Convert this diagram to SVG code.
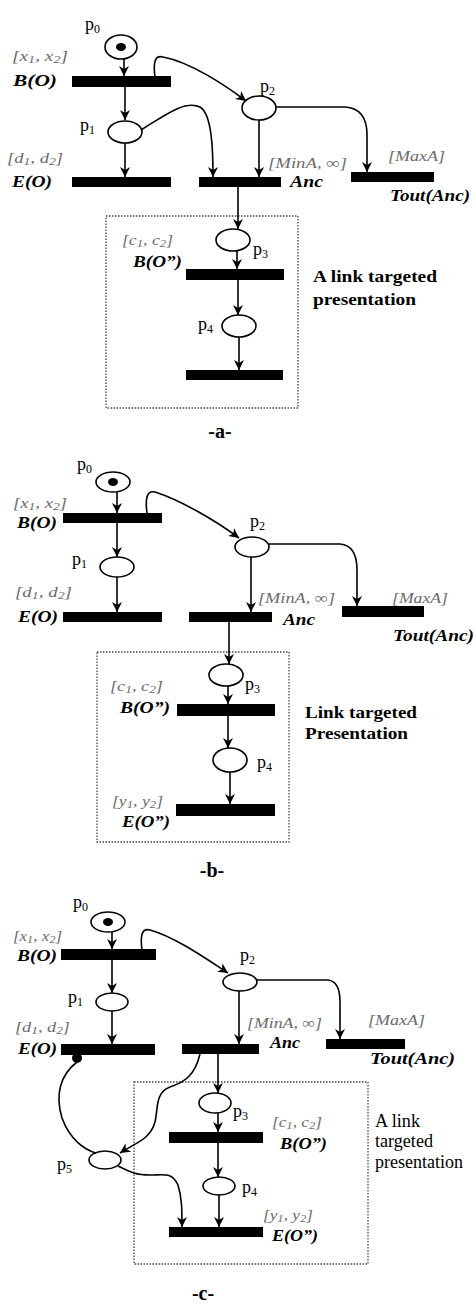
<svg xmlns="http://www.w3.org/2000/svg" width="474" height="1306" viewBox="0 0 474 1306">
<style>
.bar{fill:#000}
.pl{fill:#fff;stroke:#000;stroke-width:1.6}
.tok{fill:#000}
.arc{fill:none;stroke:#000;stroke-width:1.6}
.box{fill:none;stroke:#444;stroke-width:1.3;stroke-dasharray:1.5 1.5}
text{font-family:"Liberation Serif","Times New Roman",serif;fill:#000}
.pn{font-size:18px}
.sub{font-size:12px}
.iv{font-size:15px;font-style:italic;fill:#6b6b6b}
.iv .sub{font-size:11px}
.bi{font-size:16px;font-style:italic;font-weight:bold}
.cap{font-size:17px;font-weight:bold}
.reg{font-size:18px}
.fig{font-size:20px;font-weight:bold}
</style>
<defs>
<marker id="ah" viewBox="0 0 10 10" refX="10" refY="5" markerWidth="10" markerHeight="10" markerUnits="userSpaceOnUse" orient="auto">
<path d="M0,0 L10,5 L0,10 L3,5 z" fill="#000"/>
</marker>
</defs>

<!-- ================= Panel a ================= -->
<g id="a-p0"><ellipse class="pl" cx="121" cy="47" rx="16" ry="12"/><ellipse class="tok" cx="121" cy="47" rx="5" ry="4"/>
<text class="pn" x="85" y="30">p<tspan class="sub" dy="3">0</tspan></text></g>
<g id="a-BO"><rect class="bar" x="72" y="76" width="99" height="11"/>
<text class="iv" x="12" y="61" textLength="56" lengthAdjust="spacingAndGlyphs">[x<tspan class="sub" dy="2">1</tspan><tspan dy="-2">, x</tspan><tspan class="sub" dy="2">2</tspan><tspan dy="-2">]</tspan></text>
<text class="bi" x="13" y="86" textLength="44" lengthAdjust="spacingAndGlyphs">B(O)</text></g>
<g id="a-p1"><ellipse class="pl" cx="125" cy="132" rx="17" ry="11"/>
<text class="pn" x="80" y="131">p<tspan class="sub" dy="3">1</tspan></text></g>
<g id="a-p2"><ellipse class="pl" cx="259" cy="108" rx="17" ry="12"/>
<text class="pn" x="260" y="92">p<tspan class="sub" dy="3">2</tspan></text></g>
<g id="a-EO"><rect class="bar" x="72" y="177" width="99" height="10"/>
<text class="iv" x="7" y="163" textLength="56" lengthAdjust="spacingAndGlyphs">[d<tspan class="sub" dy="2">1</tspan><tspan dy="-2">, d</tspan><tspan class="sub" dy="2">2</tspan><tspan dy="-2">]</tspan></text>
<text class="bi" x="12" y="187" textLength="40" lengthAdjust="spacingAndGlyphs">E(O)</text></g>
<g id="a-Anc"><rect class="bar" x="199" y="177" width="82" height="10"/>
<text class="iv" x="268" y="168" textLength="79" lengthAdjust="spacingAndGlyphs">[MinA, ∞]</text>
<text class="bi" x="290" y="187" textLength="33" lengthAdjust="spacingAndGlyphs">Anc</text></g>
<g id="a-Tout"><rect class="bar" x="351" y="172" width="83" height="10"/>
<text class="iv" x="388" y="161" textLength="57" lengthAdjust="spacingAndGlyphs">[MaxA]</text>
<text class="bi" x="390" y="201" textLength="80" lengthAdjust="spacingAndGlyphs">Tout(Anc)</text></g>
<g id="a-pres"><rect class="box" x="106" y="216" width="192" height="192"/>
<text class="cap" x="313" y="282" textLength="124" lengthAdjust="spacingAndGlyphs">A link targeted</text>
<text class="cap" x="313" y="305" textLength="103" lengthAdjust="spacingAndGlyphs">presentation</text></g>
<g id="a-p3"><ellipse class="pl" cx="233" cy="240" rx="17" ry="11"/>
<text class="pn" x="253" y="255">p<tspan class="sub" dy="3">3</tspan></text></g>
<g id="a-BO2"><rect class="bar" x="186" y="269" width="98" height="11"/>
<text class="iv" x="122" y="245" textLength="51" lengthAdjust="spacingAndGlyphs">[c<tspan class="sub" dy="2">1</tspan><tspan dy="-2">, c</tspan><tspan class="sub" dy="2">2</tspan><tspan dy="-2">]</tspan></text>
<text class="bi" x="133" y="267" textLength="49" lengthAdjust="spacingAndGlyphs">B(O”)</text></g>
<g id="a-p4"><ellipse class="pl" cx="239" cy="326" rx="17" ry="11"/>
<text class="pn" x="198" y="330">p<tspan class="sub" dy="3">4</tspan></text></g>
<g id="a-EO2"><rect class="bar" x="186" y="370" width="97" height="10"/></g>
<text class="fig" x="220" y="438" text-anchor="middle">-a-</text>

<!-- ================= Panel b ================= -->
<g id="b-p0"><ellipse class="pl" cx="113" cy="482" rx="17" ry="10"/><ellipse class="tok" cx="113" cy="482" rx="5" ry="4"/>
<text class="pn" x="77" y="470">p<tspan class="sub" dy="3">0</tspan></text></g>
<g id="b-BO"><rect class="bar" x="63" y="513" width="99" height="10"/>
<text class="iv" x="13" y="508" textLength="54" lengthAdjust="spacingAndGlyphs">[x<tspan class="sub" dy="2">1</tspan><tspan dy="-2">, x</tspan><tspan class="sub" dy="2">2</tspan><tspan dy="-2">]</tspan></text>
<text class="bi" x="17" y="528" textLength="40" lengthAdjust="spacingAndGlyphs">B(O)</text></g>
<g id="b-p1"><ellipse class="pl" cx="117" cy="567" rx="17" ry="10"/>
<text class="pn" x="72" y="565">p<tspan class="sub" dy="3">1</tspan></text></g>
<g id="b-p2"><ellipse class="pl" cx="252" cy="547" rx="17" ry="10"/>
<text class="pn" x="250" y="527">p<tspan class="sub" dy="3">2</tspan></text></g>
<g id="b-EO"><rect class="bar" x="63" y="612" width="99" height="10"/>
<text class="iv" x="15" y="597" textLength="57" lengthAdjust="spacingAndGlyphs">[d<tspan class="sub" dy="2">1</tspan><tspan dy="-2">, d</tspan><tspan class="sub" dy="2">2</tspan><tspan dy="-2">]</tspan></text>
<text class="bi" x="18" y="622" textLength="40" lengthAdjust="spacingAndGlyphs">E(O)</text></g>
<g id="b-Anc"><rect class="bar" x="189" y="612" width="83" height="10"/>
<text class="iv" x="258" y="603" textLength="77" lengthAdjust="spacingAndGlyphs">[MinA, ∞]</text>
<text class="bi" x="283" y="625" textLength="32" lengthAdjust="spacingAndGlyphs">Anc</text></g>
<g id="b-Tout"><rect class="bar" x="342" y="606" width="82" height="11"/>
<text class="iv" x="392" y="603" textLength="56" lengthAdjust="spacingAndGlyphs">[MaxA]</text>
<text class="bi" x="393" y="641" textLength="81" lengthAdjust="spacingAndGlyphs">Tout(Anc)</text></g>
<g id="b-pres"><rect class="box" x="97" y="652" width="192" height="190"/>
<text class="cap" x="305" y="718" textLength="112" lengthAdjust="spacingAndGlyphs">Link targeted</text>
<text class="cap" x="305" y="739" textLength="103" lengthAdjust="spacingAndGlyphs">Presentation</text></g>
<g id="b-p3"><ellipse class="pl" cx="226" cy="675" rx="17" ry="11"/>
<text class="pn" x="245" y="690">p<tspan class="sub" dy="3">3</tspan></text></g>
<g id="b-BO2"><rect class="bar" x="177" y="704" width="98" height="12"/>
<text class="iv" x="110" y="691" textLength="53" lengthAdjust="spacingAndGlyphs">[c<tspan class="sub" dy="2">1</tspan><tspan dy="-2">, c</tspan><tspan class="sub" dy="2">2</tspan><tspan dy="-2">]</tspan></text>
<text class="bi" x="120" y="713" textLength="50" lengthAdjust="spacingAndGlyphs">B(O”)</text></g>
<g id="b-p4"><ellipse class="pl" cx="230" cy="760" rx="17" ry="12"/>
<text class="pn" x="257" y="768">p<tspan class="sub" dy="3">4</tspan></text></g>
<g id="b-EO2"><rect class="bar" x="176" y="804" width="99" height="12"/>
<text class="iv" x="112" y="806" textLength="51" lengthAdjust="spacingAndGlyphs">[y<tspan class="sub" dy="2">1</tspan><tspan dy="-2">, y</tspan><tspan class="sub" dy="2">2</tspan><tspan dy="-2">]</tspan></text>
<text class="bi" x="122" y="827" textLength="48" lengthAdjust="spacingAndGlyphs">E(O”)</text></g>
<text class="fig" x="212" y="877" text-anchor="middle">-b-</text>

<!-- ================= Panel c ================= -->
<g id="c-p0"><ellipse class="pl" cx="108" cy="922" rx="17" ry="10"/><ellipse class="tok" cx="108" cy="922" rx="5" ry="4"/>
<text class="pn" x="73" y="908">p<tspan class="sub" dy="3">0</tspan></text></g>
<g id="c-BO"><rect class="bar" x="61" y="949" width="95" height="11"/>
<text class="iv" x="13" y="941" textLength="49" lengthAdjust="spacingAndGlyphs">[x<tspan class="sub" dy="2">1</tspan><tspan dy="-2">, x</tspan><tspan class="sub" dy="2">2</tspan><tspan dy="-2">]</tspan></text>
<text class="bi" x="17" y="961" textLength="40" lengthAdjust="spacingAndGlyphs">B(O)</text></g>
<g id="c-p1"><ellipse class="pl" cx="112" cy="1002" rx="16" ry="9"/>
<text class="pn" x="68" y="1003">p<tspan class="sub" dy="3">1</tspan></text></g>
<g id="c-p2"><ellipse class="pl" cx="240" cy="982" rx="17" ry="9"/>
<text class="pn" x="240" y="961">p<tspan class="sub" dy="3">2</tspan></text></g>
<g id="c-EO"><rect class="bar" x="61" y="1044" width="94" height="11"/>
<text class="iv" x="15" y="1032" textLength="55" lengthAdjust="spacingAndGlyphs">[d<tspan class="sub" dy="2">1</tspan><tspan dy="-2">, d</tspan><tspan class="sub" dy="2">2</tspan><tspan dy="-2">]</tspan></text>
<text class="bi" x="18" y="1054" textLength="39" lengthAdjust="spacingAndGlyphs">E(O)</text></g>
<g id="c-Anc"><rect class="bar" x="182" y="1044" width="77" height="10"/>
<text class="iv" x="247" y="1028" textLength="75" lengthAdjust="spacingAndGlyphs">[MinA, ∞]</text>
<text class="bi" x="270" y="1048" textLength="30" lengthAdjust="spacingAndGlyphs">Anc</text></g>
<g id="c-Tout"><rect class="bar" x="326" y="1039" width="79" height="10"/>
<text class="iv" x="368" y="1025" textLength="57" lengthAdjust="spacingAndGlyphs">[MaxA]</text>
<text class="bi" x="370" y="1064" textLength="85" lengthAdjust="spacingAndGlyphs">Tout(Anc)</text></g>
<g id="c-pres"><rect class="box" x="134" y="1082" width="234" height="182"/>
<text class="reg" x="375" y="1127" textLength="45" lengthAdjust="spacingAndGlyphs">A link</text>
<text class="reg" x="375" y="1147" textLength="58" lengthAdjust="spacingAndGlyphs">targeted</text>
<text class="reg" x="375" y="1168" textLength="88" lengthAdjust="spacingAndGlyphs">presentation</text></g>
<g id="c-p3"><ellipse class="pl" cx="215" cy="1103" rx="16" ry="10"/>
<text class="pn" x="233" y="1117">p<tspan class="sub" dy="3">3</tspan></text></g>
<g id="c-BO2"><rect class="bar" x="169" y="1132" width="94" height="11"/>
<text class="iv" x="272" y="1127" textLength="50" lengthAdjust="spacingAndGlyphs">[c<tspan class="sub" dy="2">1</tspan><tspan dy="-2">, c</tspan><tspan class="sub" dy="2">2</tspan><tspan dy="-2">]</tspan></text>
<text class="bi" x="280" y="1149" textLength="47" lengthAdjust="spacingAndGlyphs">B(O”)</text></g>
<g id="c-p4"><ellipse class="pl" cx="219" cy="1186" rx="16" ry="9"/>
<text class="pn" x="242" y="1193">p<tspan class="sub" dy="3">4</tspan></text></g>
<g id="c-EO2"><rect class="bar" x="169" y="1227" width="94" height="10"/>
<text class="iv" x="263" y="1220" textLength="50" lengthAdjust="spacingAndGlyphs">[y<tspan class="sub" dy="2">1</tspan><tspan dy="-2">, y</tspan><tspan class="sub" dy="2">2</tspan><tspan dy="-2">]</tspan></text>
<text class="bi" x="272" y="1241" textLength="46" lengthAdjust="spacingAndGlyphs">E(O”)</text></g>
<g id="c-p5"><ellipse class="pl" cx="105" cy="1160" rx="16" ry="9"/>
<text class="pn" x="57" y="1170">p<tspan class="sub" dy="3">5</tspan></text></g>
<text class="fig" x="203" y="1300" text-anchor="middle">-c-</text>

<!-- ================= Connectors ================= -->
<g id="connectors">
<!-- a -->
<path class="arc" d="M124,59 L124,76" marker-end="url(#ah)"/>
<path class="arc" d="M155,77 C153,62 155,55 163,57 C190,62 225,85 246,101" marker-end="url(#ah)"/>
<path class="arc" d="M125,87 L125,120" marker-end="url(#ah)"/>
<path class="arc" d="M141,130 C165,115 185,100 200,107 C212,114 213,150 213,177" marker-end="url(#ah)"/>
<path class="arc" d="M125,143 L125,177" marker-end="url(#ah)"/>
<path class="arc" d="M259,120 L259,177" marker-end="url(#ah)"/>
<path class="arc" d="M276,107 L345,107 C362,108 367,120 367,135 L367,172" marker-end="url(#ah)"/>
<path class="arc" d="M238,187 L238,229" marker-end="url(#ah)"/>
<path class="arc" d="M237,251 L237,269" marker-end="url(#ah)"/>
<path class="arc" d="M238,280 L238,315" marker-end="url(#ah)"/>
<path class="arc" d="M239,337 L239,370" marker-end="url(#ah)"/>
<!-- b -->
<path class="arc" d="M117,492 L117,513" marker-end="url(#ah)"/>
<path class="arc" d="M147,513 C145,498 147,490 155,492 C180,500 215,520 239,538" marker-end="url(#ah)"/>
<path class="arc" d="M117,523 L117,557" marker-end="url(#ah)"/>
<path class="arc" d="M117,577 L117,612" marker-end="url(#ah)"/>
<path class="arc" d="M251,557 L251,612" marker-end="url(#ah)"/>
<path class="arc" d="M269,544 L340,544 C352,545 357,555 357,570 L357,606" marker-end="url(#ah)"/>
<path class="arc" d="M229,622 L229,664" marker-end="url(#ah)"/>
<path class="arc" d="M228,686 L228,704" marker-end="url(#ah)"/>
<path class="arc" d="M228,716 L228,748" marker-end="url(#ah)"/>
<path class="arc" d="M230,772 L230,804" marker-end="url(#ah)"/>
<!-- c -->
<path class="arc" d="M112,932 L112,949" marker-end="url(#ah)"/>
<path class="arc" d="M142,950 C140,935 142,928 150,930 C175,937 205,958 228,973" marker-end="url(#ah)"/>
<path class="arc" d="M112,960 L112,993" marker-end="url(#ah)"/>
<path class="arc" d="M112,1011 L112,1044" marker-end="url(#ah)"/>
<path class="arc" d="M239,991 L239,1044" marker-end="url(#ah)"/>
<path class="arc" d="M257,980 L328,980 C337,981 340,990 340,1002 L340,1039" marker-end="url(#ah)"/>
<path class="arc" d="M218,1054 L218,1093" marker-end="url(#ah)"/>
<path class="arc" d="M218,1113 L218,1132" marker-end="url(#ah)"/>
<path class="arc" d="M218,1143 L218,1177" marker-end="url(#ah)"/>
<path class="arc" d="M219,1195 L219,1227" marker-end="url(#ah)"/>
<path class="arc" d="M96,1153 C85,1150 70,1140 62,1118 C55,1095 60,1075 77,1062"/>
<circle cx="77" cy="1058" r="5" fill="#000"/>
<path class="arc" d="M200,1054 C195,1075 185,1082 170,1087 C155,1092 158,1110 155,1122 C150,1140 135,1143 120,1153" marker-end="url(#ah)"/>
<path class="arc" d="M118,1166 C130,1172 135,1175 150,1175 C165,1175 172,1172 178,1185 C182,1198 182,1210 182,1227" marker-end="url(#ah)"/>
</g>
</svg>
